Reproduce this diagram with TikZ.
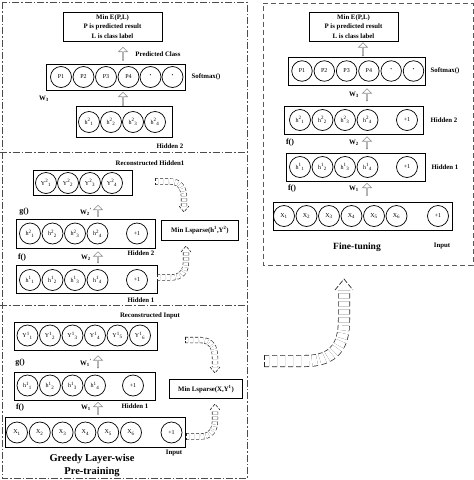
\documentclass[tikz,border=0pt]{standalone}
\usepackage{fontspec}
\setmainfont{Liberation Serif}
\usetikzlibrary{shapes.arrows,calc}
\newcommand\sps[3]{#1\textsuperscript{#2}\kern-0.05em\textsubscript{#3}}
\newcommand\mydot{{\fontsize{10}{10}\selectfont ·}}
\tikzset{
 unit/.style={circle,draw,line width=0.7pt,minimum size=21pt,inner sep=0pt,font=\fontsize{6}{7}\selectfont},
 layer/.style={rectangle,draw,line width=0.9pt,inner sep=0pt},
 lbl/.style={font=\fontsize{6.8}{8}\selectfont\bfseries,inner sep=0pt},
 minbox/.style={rectangle,draw,line width=0.9pt,inner sep=0pt,align=center,font=\fontsize{6.8}{9.5}\selectfont\bfseries},
 harrow/.style={single arrow,draw=black!45,line width=0.6pt,shape border rotate=90,minimum height=12pt,minimum width=9pt,single arrow head extend=2pt,inner sep=0pt},
 dhol/.style={draw=black!85,dash pattern=on 3pt off 2pt,line width=0.6pt,double=white,double distance=5pt},
 dholbig/.style={draw=black!85,dash pattern=on 5pt off 3pt,line width=0.7pt,double=white,double distance=10.6pt},
 dhead/.style={draw=black!85,dash pattern=on 3pt off 1.5pt,line width=0.6pt},
 dheadbig/.style={draw=black!85,dash pattern=on 5pt off 2pt,line width=0.7pt},
 frameL/.style={draw=black!70,line width=0.9pt,dash pattern=on 7pt off 2pt on 1.5pt off 2pt},
 frameR/.style={draw=black!65,line width=1pt,dash pattern=on 5pt off 3pt},
}
\begin{document}
\begin{tikzpicture}[x=1pt,y=-1pt]
\useasboundingbox (0,0) rectangle (474,480);
% frames
\draw[frameL] (2,2) rectangle (247,478);
\draw[frameL] (0,152.5) -- (247,152.5);
\draw[frameL] (0,305) -- (247,305);
\draw[frameR] (263,3) -- (473,3) -- (473,265) -- (263,265) -- cycle;

% ===== top-left: softmax classifier =====
\node[minbox,minimum width=99pt,minimum height=29pt] (minTL) at (112.5,26.5) {Min E(P,L)\\P is predicted result\\L is class label};
\node[layer,minimum width=139pt,minimum height=26pt] (smTL) at (115.5,77) {};
\foreach \n/\x in {1/61,2/83.5,3/106,4/128.5} \node[unit] (tlP\n) at (\x,77) {P\n};
\node[unit] (tlP5) at (150.5,77) {\mydot};
\node[unit] (tlP6) at (172.5,77) {\mydot};
\node[lbl] (tlSm) at (206,77) {Softmax()};
\node[harrow,minimum height=13pt] (tlA1) at (123,54) {};
\node[lbl] (tlPC) at (158,54) {Predicted Class};
\node[layer,minimum width=96pt,minimum height=31pt] (h2TL) at (124,121.5) {};
\foreach \n/\x in {1/89,2/111,3/133,4/155} \node[unit] (tlH\n) at (\x,122) {\sps{h}{2}{\n}};
\node[lbl] (tlW3) at (44,99) {W\textsubscript{3}};
\node[harrow,minimum height=13pt] (tlA2) at (123,99) {};
\node[lbl] (tlHid) at (170,146) {Hidden 2};

% ===== middle: second autoencoder =====
\node[lbl] (mRec) at (150,163) {Reconstructed Hidden1};
\node[layer,minimum width=99pt,minimum height=25pt] (y2M) at (82.5,182.5) {};
\foreach \n/\x in {1/46,2/68,3/90,4/112} \node[unit] (mY\n) at (\x,183) {\sps{Y}{2}{\n}};
\node[lbl,font=\fontsize{8}{9}\selectfont\bfseries] (mg) at (24,212) {g()};
\node[lbl] (mW2p) at (86,212) {W\textsubscript{2}\textsuperscript{'}};
\node[harrow,minimum height=11pt] (mA1) at (98,211) {};
\node[layer,minimum width=139pt,minimum height=29pt] (h2M) at (85.5,233.5) {};
\foreach \n/\x in {1/30,2/52.5,3/75,4/97.5} \node[unit] (mH\n) at (\x,233.5) {\sps{h}{2}{\n}};
\node[unit] (mH5) at (137,233.5) {+1};
\node[lbl] (mHid2) at (141,253) {Hidden 2};
\node[lbl,font=\fontsize{8}{9}\selectfont\bfseries] (mf) at (22,258) {f()};
\node[lbl] (mW2) at (86,258) {W\textsubscript{2}};
\node[harrow,minimum height=11pt] (mA2) at (98,257.5) {};
\node[layer,minimum width=141pt,minimum height=28pt] (h1M) at (86.5,279) {};
\foreach \n/\x in {1/30,2/52.5,3/75,4/97.5} \node[unit] (mG\n) at (\x,280) {\sps{h}{1}{\n}};
\node[unit] (mG5) at (137,280) {+1};
\node[lbl] (mHid1) at (141,300) {Hidden 1};
\node[minbox,minimum width=77pt,minimum height=20pt] (minM) at (200,230) {Min Lsparse(h\textsuperscript{1},Y\textsuperscript{2})};

% dashed hollow arrows (middle)
\coordinate (mtS) at (155,181.5);
\coordinate (mtE) at (184,206);
\draw[dhol] (mtS) -- (170,181.5) .. controls (180,181.5) and (184,188) .. (184,198) -- (mtE);
\draw[dhead] ($(mtS)+(0,-3.4)$) -- ($(mtS)+(0,3.4)$);
\draw[dhead] ($(mtE)+(-5,0)$) -- ($(mtE)+(0,6)$) -- ($(mtE)+(5,0)$);
\coordinate (mbS) at (157,277.5);
\coordinate (mbE) at (186,252);
\draw[dhol] (mbS) -- (170,277.5) .. controls (182,277.5) and (186,271) .. (186,261) -- (mbE);
\draw[dhead] ($(mbS)+(0,-3.4)$) -- ($(mbS)+(0,3.4)$);
\draw[dhead] ($(mbE)+(-5,0)$) -- ($(mbE)+(0,-6)$) -- ($(mbE)+(5,0)$);

% ===== bottom: first autoencoder =====
\node[lbl] (bRec) at (150,316) {Reconstructed Input};
\node[layer,minimum width=143pt,minimum height=28pt] (y1B) at (85.5,336) {};
\foreach \n/\x in {1/27.5,2/50,3/72.5,4/95,5/117.5,6/140} \node[unit] (bY\n) at (\x,335.5) {\sps{Y}{1}{\n}};
\node[lbl,font=\fontsize{8}{9}\selectfont\bfseries] (bg) at (20,363) {g()};
\node[lbl] (bW1p) at (86,363) {W\textsubscript{1}\textsuperscript{'}};
\node[harrow,minimum height=12pt] (bA1) at (98,362) {};
\node[layer,minimum width=141pt,minimum height=28pt] (h1B) at (84.5,386) {};
\foreach \n/\x in {1/27.5,2/50,3/72.5,4/95} \node[unit] (bH\n) at (\x,385.5) {\sps{h}{1}{\n}};
\node[unit] (bH5) at (133,385.5) {+1};
\node[lbl] (bHid1) at (135,406) {Hidden 1};
\node[lbl,font=\fontsize{8}{9}\selectfont\bfseries] (bf) at (20,408) {f()};
\node[lbl] (bW1) at (86,408) {W\textsubscript{1}};
\node[harrow,minimum height=12pt] (bA2) at (98,408.5) {};
\node[layer,minimum width=180pt,minimum height=30pt] (xB) at (95,432) {};
\foreach \n/\x in {1/17,2/39.8,3/62.6,4/85.4,5/108.2,6/131} \node[unit] (bX\n) at (\x,432.5) {X\textsubscript{\n}};
\node[unit] (bX7) at (171.5,432.5) {+1};
\node[lbl] (bIn) at (174,453) {Input};
\node[align=center,inner sep=0pt,font=\fontsize{10.5}{13}\selectfont\bfseries] (greedy) at (92,465.5) {Greedy Layer-wise\\Pre-training};
\node[minbox,minimum width=73pt,minimum height=19pt] (minB) at (206,389) {Min Lsparse(X,Y\textsuperscript{1})};

% dashed hollow arrows (bottom)
\coordinate (btS) at (185,340);
\coordinate (btE) at (215,367);
\draw[dhol] (btS) -- (200,340) .. controls (211,340) and (215,347) .. (215,357) -- (btE);
\draw[dhead] ($(btS)+(0,-3.4)$) -- ($(btS)+(0,3.4)$);
\draw[dhead] ($(btE)+(-5,0)$) -- ($(btE)+(0,6)$) -- ($(btE)+(5,0)$);
\coordinate (bbS) at (186,436.5);
\coordinate (bbE) at (215,410);
\draw[dhol] (bbS) -- (200,436.5) .. controls (211,436.5) and (215,430) .. (215,420) -- (bbE);
\draw[dhead] ($(bbS)+(0,-3.4)$) -- ($(bbS)+(0,3.4)$);
\draw[dhead] ($(bbE)+(-5,0)$) -- ($(bbE)+(0,-6)$) -- ($(bbE)+(5,0)$);

% big dashed arrow to fine-tuning
\coordinate (bgS) at (264,361);
\coordinate (bgE) at (344,290);
\draw[dholbig] (bgS) -- (305,361) .. controls (335,361) and (344,345) .. (344,320) -- (bgE);
\draw[dheadbig] ($(bgS)+(0,-6)$) -- ($(bgS)+(0,6)$);
\draw[dheadbig] ($(bgE)+(-9,0)$) -- ($(bgE)+(0,-11)$) -- ($(bgE)+(9,0)$);

% ===== right: fine-tuning =====
\node[minbox,minimum width=89pt,minimum height=29pt] (minR) at (353.5,26.5) {Min E(P,L)\\P is predicted result\\L is class label};
\node[harrow,minimum height=13pt] (rA1) at (363,49.5) {};
\node[layer,minimum width=137pt,minimum height=28pt] (smR) at (356.5,71) {};
\foreach \n/\x in {1/302,2/324.3,3/346.6,4/368.9} \node[unit,minimum size=20.5pt] (rP\n) at (\x,71) {P\n};
\node[unit,minimum size=20.5pt] (rP5) at (391.2,71) {\mydot};
\node[unit,minimum size=20.5pt] (rP6) at (413.5,71) {\mydot};
\node[lbl] (rSm) at (445,71) {Softmax()};
\node[lbl] (rW3) at (354,95) {W\textsubscript{3}};
\node[harrow,minimum height=12pt] (rA2) at (367,95) {};
\node[layer,minimum width=139pt,minimum height=28pt] (h2R) at (353.5,120) {};
\foreach \n/\x in {1/300,2/322.5,3/345,4/367.5} \node[unit] (rH\n) at (\x,120) {\sps{h}{2}{\n}};
\node[unit] (rH5) at (407,120) {+1};
\node[lbl] (rHid2) at (444,120) {Hidden 2};
\node[lbl,font=\fontsize{8}{9}\selectfont\bfseries] (rf2) at (290,143) {f()};
\node[lbl] (rW2) at (354,143) {W\textsubscript{2}};
\node[harrow,minimum height=12pt] (rA3) at (367,143) {};
\node[layer,minimum width=139pt,minimum height=28pt] (h1R) at (355.5,167) {};
\foreach \n/\x in {1/300,2/322.5,3/345,4/367.5} \node[unit] (rG\n) at (\x,167) {\sps{h}{1}{\n}};
\node[unit] (rG5) at (407,167) {+1};
\node[lbl] (rHid1) at (445,167) {Hidden 1};
\node[lbl,font=\fontsize{8}{9}\selectfont\bfseries] (rf1) at (292,189) {f()};
\node[lbl] (rW1) at (354,189) {W\textsubscript{1}};
\node[harrow,minimum height=12pt] (rA4) at (367,189.5) {};
\node[layer,minimum width=179pt,minimum height=28pt] (xR) at (362.5,216) {};
\foreach \n/\x in {1/284,2/306.5,3/329,4/351.5,5/374,6/396.5} \node[unit] (rX\n) at (\x,216) {X\textsubscript{\n}};
\node[unit] (rX7) at (438,216) {+1};
\node[inner sep=0pt,font=\fontsize{9.5}{11}\selectfont\bfseries] (fine) at (357,247) {Fine-tuning};
\node[lbl] (rIn) at (442,246) {Input};
\end{tikzpicture}
\end{document}
